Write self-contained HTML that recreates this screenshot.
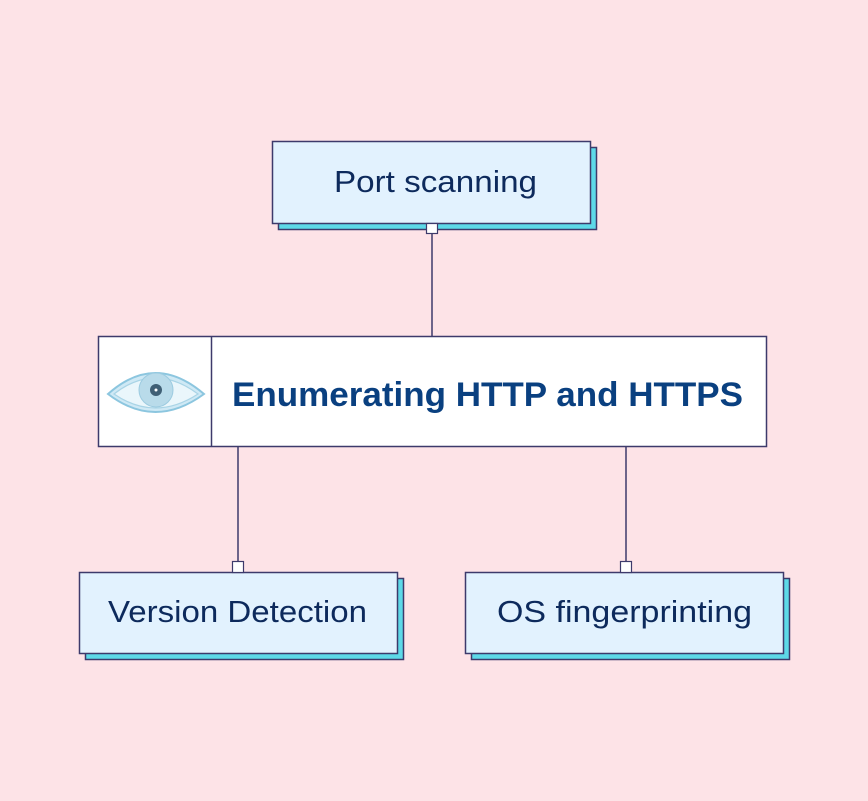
<!DOCTYPE html>
<html><head><meta charset="utf-8"><style>
html,body{margin:0;padding:0;background:#fde3e7;}
svg{display:block;}
text{font-family:"Liberation Sans",sans-serif;}
</style></head><body>
<svg width="868" height="801" viewBox="0 0 868 801" xmlns="http://www.w3.org/2000/svg">
<rect width="868" height="801" fill="#fde3e7"/>
<line x1="432" y1="229" x2="432" y2="337" stroke="#3d3a6b" stroke-width="1.5"/>
<line x1="238" y1="447" x2="238" y2="561" stroke="#3d3a6b" stroke-width="1.5"/>
<line x1="626" y1="447" x2="626" y2="561" stroke="#3d3a6b" stroke-width="1.5"/>
<rect x="278.5" y="147.5" width="318" height="82" fill="#5dd9e8" stroke="#3d3a6b" stroke-width="1.5"/>
<rect x="272.5" y="141.5" width="318" height="82" fill="#e2f2fe" stroke="#3d3a6b" stroke-width="1.5"/>
<text x="334" y="192" font-size="31" fill="#0d2a5c" textLength="203" lengthAdjust="spacingAndGlyphs">Port scanning</text>
<rect x="426.5" y="223.5" width="11" height="10" fill="#fff" stroke="#3d3a6b" stroke-width="1.2"/>
<rect x="98.5" y="336.5" width="668" height="110" fill="#fff" stroke="#3d3a6b" stroke-width="1.5"/>
<line x1="211.5" y1="336.5" x2="211.5" y2="446.5" stroke="#3d3a6b" stroke-width="1.5"/>
<text x="232" y="406" font-size="34" font-weight="bold" fill="#0a4080" textLength="511" lengthAdjust="spacingAndGlyphs">Enumerating HTTP and HTTPS</text>
<g>
<path d="M108 394 Q155 352 204 394 Q155 430 108 394Z" fill="#cfe9f5" stroke="#8cc6df" stroke-width="2"/>
<path d="M114 394 Q155 362 198 394 Q155 422 114 394Z" fill="#eaf6fb" stroke="#a9d4e6" stroke-width="1.2"/>
<circle cx="156" cy="390" r="17" fill="#b9dbea" stroke="#9ccbe0"/>
<circle cx="156" cy="390" r="6" fill="#3f5f75"/>
<circle cx="156" cy="390" r="1.5" fill="#fff"/>
</g>
<rect x="85.5" y="578.5" width="318" height="81" fill="#5dd9e8" stroke="#3d3a6b" stroke-width="1.5"/>
<rect x="79.5" y="572.5" width="318" height="81" fill="#e2f2fe" stroke="#3d3a6b" stroke-width="1.5"/>
<text x="108" y="622" font-size="31" fill="#0d2a5c" textLength="259" lengthAdjust="spacingAndGlyphs">Version Detection</text>
<rect x="232.5" y="561.5" width="11" height="11" fill="#fff" stroke="#3d3a6b" stroke-width="1.2"/>
<rect x="471.5" y="578.5" width="318" height="81" fill="#5dd9e8" stroke="#3d3a6b" stroke-width="1.5"/>
<rect x="465.5" y="572.5" width="318" height="81" fill="#e2f2fe" stroke="#3d3a6b" stroke-width="1.5"/>
<text x="497" y="622" font-size="31" fill="#0d2a5c" textLength="255" lengthAdjust="spacingAndGlyphs">OS fingerprinting</text>
<rect x="620.5" y="561.5" width="11" height="11" fill="#fff" stroke="#3d3a6b" stroke-width="1.2"/>
</svg>
</body></html>
